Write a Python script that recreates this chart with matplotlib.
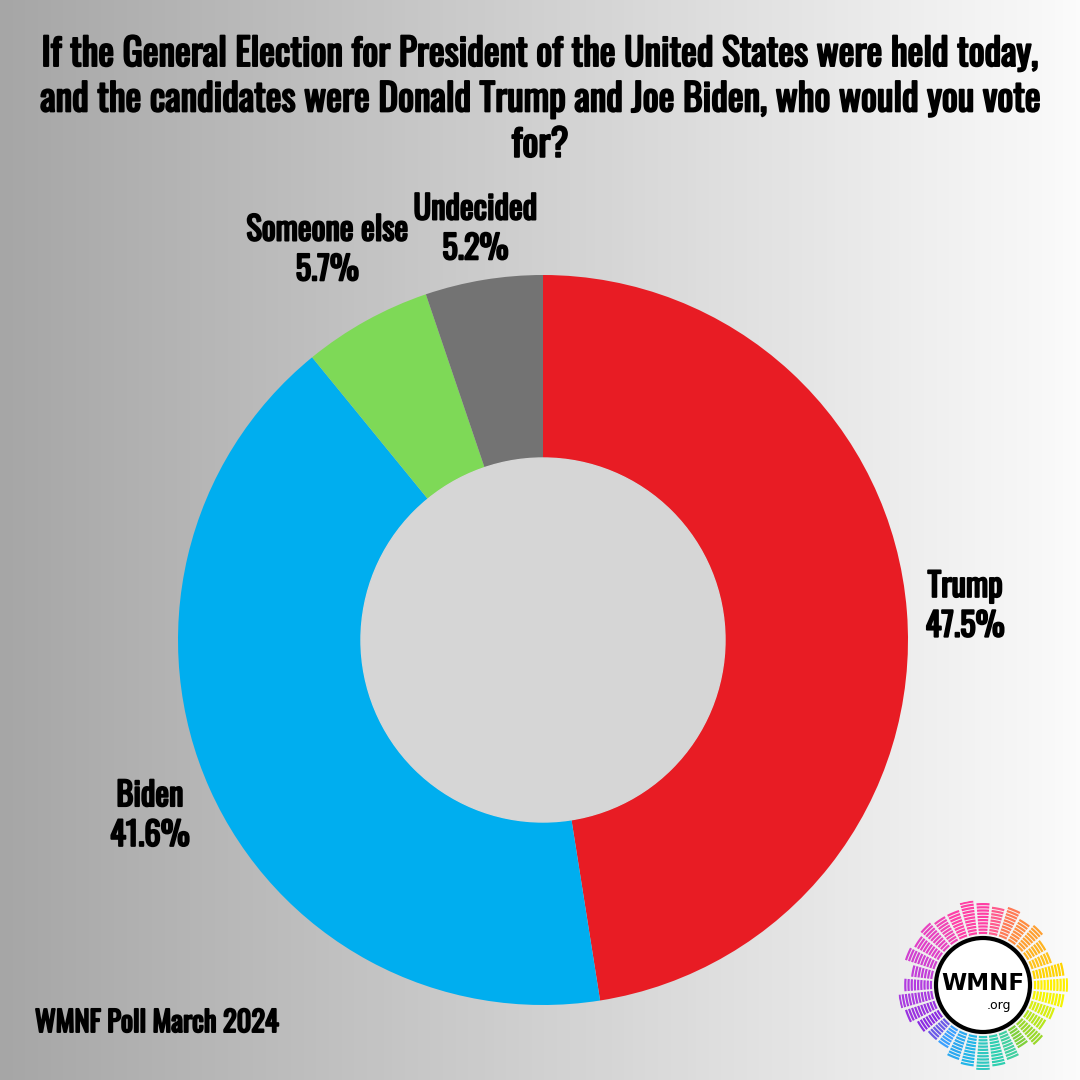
import numpy as np
import matplotlib.pyplot as plt
import matplotlib.patheffects as pe
from matplotlib.colors import LinearSegmentedColormap
from matplotlib.patches import Circle

# Data
labels = ['Trump', 'Biden', 'Someone else', 'Undecided']
values = [47.5, 41.6, 5.7, 5.2]
colors = ['#e81c24', '#00aeef', '#7ed957', '#737373']
label_dist = [1.16, 1.18, 1.22, 1.14]

title = ('If the General Election for President of the United States were held today,\n'
         'and the candidates were Donald Trump and Joe Biden, who would you vote\n'
         'for?')
footer = 'WMNF Poll March 2024'

# logo bar lengths (px) and colours, clockwise from top
logo_len = [32, 26, 30, 24, 28, 22, 20, 30, 34, 30, 24, 20, 26, 22, 28, 30,
            34, 30, 26, 22, 20, 24, 30, 34, 28, 22, 30, 26, 32, 26, 28, 34]
logo_cols = ['#ff3fa4', '#ff5a8c', '#ff7a55', '#ff8c40', '#ff9f30', '#ffb320',
             '#ffc21a', '#ffd300', '#fff000', '#f5f500', '#d8ee10', '#b5e61d',
             '#9ad82a', '#7ed03a', '#40d0a0', '#2ecfb0', '#30c8c0', '#22b5e8',
             '#2aa8f0', '#3aa0ff', '#6a5ae8', '#8a2be2', '#9a33e0', '#a93ae0',
             '#b23be0', '#c23ed8', '#d040d0', '#e040c8', '#e843c0', '#f045b5',
             '#ff40a8', '#ff3fa4']

plt.rcParams['font.family'] = ['Oswald', 'Anton', 'DejaVu Sans']
bold = [pe.withStroke(linewidth=1.4, foreground='black')]

fig = plt.figure(figsize=(10.8, 10.8), dpi=100)
ax = fig.add_axes([0, 0, 1, 1])

# background gradient
grad = np.linspace(0, 1, 256).reshape(1, -1)
ax.imshow(grad, extent=[0, 1080, 0, 1080], aspect='auto',
          cmap=LinearSegmentedColormap.from_list('bg', ['#a6a6a6', '#fbfbfb']),
          zorder=0)

cx, cy, R = 543, 440, 365
wedges, _ = ax.pie(values, colors=colors, startangle=90, counterclock=False,
                   center=(cx, cy), radius=R, wedgeprops=dict(width=183, linewidth=0))
ax.add_patch(Circle((cx, cy), R - 183, color='#d6d6d6', zorder=3))
ax.set_xlim(0, 1080)
ax.set_ylim(0, 1080)
ax.set_aspect('auto')
ax.axis('off')

for w, lab, v, d in zip(wedges, labels, values, label_dist):
    ang = np.deg2rad((w.theta1 + w.theta2) / 2)
    x = cx + R * d * np.cos(ang)
    y = cy + R * d * np.sin(ang)
    ax.text(x, y, f'{lab}\n{v}%', ha='center', va='center', fontsize=23.5,
            linespacing=1.3, color='black', zorder=5, path_effects=bold)

ax.text(540, 1044, title, ha='center', va='top', fontsize=27,
        linespacing=1.28, color='black', path_effects=bold)
ax.text(35, 57, footer, ha='left', va='center', fontsize=20.5, path_effects=bold)

# logo
lax = fig.add_axes([898 / 1080, 10 / 1080, 170 / 1080, 170 / 1080], projection='polar')
lax.set_theta_zero_location('N')
lax.set_theta_direction(-1)
lax.set_ylim(0, 85)
lax.axis('off')
n = len(logo_len)
thetas = np.arange(n) * 2 * np.pi / n
for t, L, c in zip(thetas, logo_len, logo_cols):
    r = 51
    while r < 51 + L:
        lax.bar(t, 2.2, width=2 * np.pi / n * 0.82, bottom=r, color=c, linewidth=0)
        r += 3.2
lax.add_patch(Circle((0, 0), 47, transform=lax.transData._b, facecolor='white',
                     edgecolor='black', linewidth=3, zorder=5))
lax.text(0, 2, 'WMNF', ha='center', va='center', fontsize=16.5, fontweight='bold',
         family='DejaVu Sans', transform=lax.transData._b, zorder=6)
lax.text(16, -21, '.org', ha='center', va='center', fontsize=9,
         family='DejaVu Sans', transform=lax.transData._b, zorder=6)

fig.savefig('out.png', dpi=100)
